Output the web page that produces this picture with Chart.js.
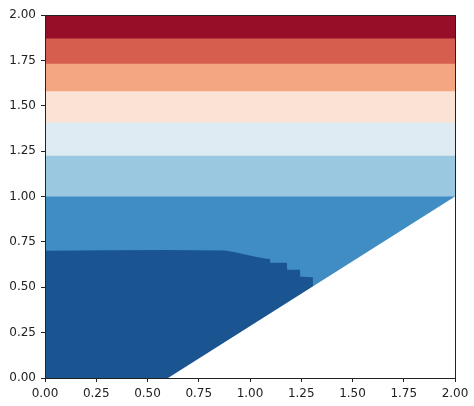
<!DOCTYPE html>
<html><head><meta charset="utf-8">
<script src="https://cdn.jsdelivr.net/npm/chart.js@4/dist/chart.umd.min.js"></script>
<style>html,body{margin:0;padding:0;background:#fff}#wrap{width:474px;height:406px}</style>
</head><body><div id="wrap"><canvas id="c" width="474" height="406"></canvas></div>
<script>
// tick values for both axes
const tickValues = [0, 0.25, 0.5, 0.75, 1.0, 1.25, 1.5, 1.75, 2.0];
// contour band upper boundaries (top to bottom) and their fill colours
const levels = [2.0, 1.87, 1.732, 1.58, 1.408, 1.225, 1.0];
const bandColors = ['#960e28', '#d55e4e', '#f4a683', '#fae2d5', '#deebf3', '#9ac8e0', '#3f8dc2'];
// innermost (dark blue) region top edge
const innerX = [0, 0.30, 0.60, 0.878, 0.934, 0.982, 1.033, 1.081, 1.098, 1.099, 1.180, 1.181, 1.244, 1.245, 1.307, 1.308];
const innerY = [0.701, 0.704, 0.705, 0.703, 0.692, 0.679, 0.667, 0.657, 0.655, 0.635, 0.635, 0.597, 0.597, 0.558, 0.555, 0];
const innerColor = '#1a5592';
// masked (empty) triangle edge
const maskX = [0.6, 2.0];
const maskY = [0.0, 1.0];

const xMin = 0, xMax = 2;
const datasets = [];
let ord = 100;
levels.forEach((lv, i) => {
  datasets.push({
    data: [{x: xMin, y: lv}, {x: xMax, y: lv}],
    backgroundColor: bandColors[i], borderColor: 'rgba(0,0,0,0)', borderWidth: 0,
    pointRadius: 0, fill: 'origin', showLine: true, order: ord--
  });
});
datasets.push({
  data: innerX.map((x, i) => ({x, y: innerY[i]})),
  backgroundColor: innerColor, borderColor: 'rgba(0,0,0,0)', borderWidth: 0,
  pointRadius: 0, fill: 'origin', showLine: true, order: ord--
});
datasets.push({
  data: maskX.map((x, i) => ({x, y: maskY[i]})),
  backgroundColor: '#ffffff', borderColor: 'rgba(0,0,0,0)', borderWidth: 0,
  pointRadius: 0, fill: 'origin', showLine: true, order: ord--
});

const font = {family: 'DejaVu Sans', size: 12};
function axisOpts(fit) {
  return {
    type: 'linear', min: 0, max: 2,
    afterBuildTicks: s => { s.ticks = tickValues.map(v => ({value: v})); },
    ticks: {callback: v => Number(v).toFixed(2), font, color: '#222', padding: 5, maxRotation: 0, autoSkip: false},
    grid: {drawOnChartArea: false, color: '#222', tickLength: 4, tickWidth: 1},
    border: {color: '#222', width: 1},
    afterFit: fit
  };
}
const frame = {
  id: 'frame',
  afterDraw(chart) {
    const a = chart.chartArea, ctx = chart.ctx;
    const al = p => Math.round(p - 0.5) + 0.5;
    ctx.save();
    ctx.strokeStyle = '#222'; ctx.lineWidth = 1;
    ctx.strokeRect(al(a.left), al(a.top), al(a.right) - al(a.left), al(a.bottom) - al(a.top));
    ctx.restore();
  }
};
new Chart(document.getElementById('c'), {
  type: 'scatter',
  data: {datasets},
  options: {
    responsive: false, animation: false, devicePixelRatio: 1,
    layout: {padding: {left: 5, right: 19, top: 15, bottom: 0}},
    plugins: {legend: {display: false}, tooltip: {enabled: false}},
    scales: {
      x: axisOpts(s => { s.height = 28; }),
      y: axisOpts(s => { s.width = 40; })
    }
  },
  plugins: [frame]
});
</script></body></html>
